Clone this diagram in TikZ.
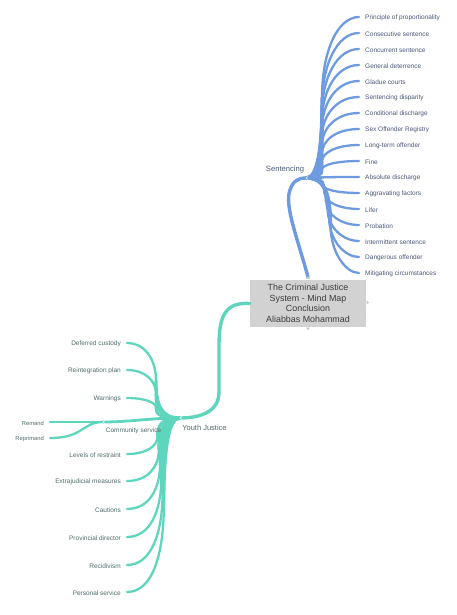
\documentclass[tikz,border=0pt]{standalone}
\usepackage{fontspec}
\setmainfont{Liberation Sans}
\definecolor{sblue}{HTML}{6E9BE0}
\definecolor{yteal}{HTML}{5ED6BD}
\definecolor{stext}{HTML}{4A5676}
\definecolor{ytext}{HTML}{4F6A68}
\definecolor{boxfill}{HTML}{D2D2D2}
\definecolor{boxtext}{HTML}{3C3C3C}
\begin{document}
\begin{tikzpicture}[x=1pt,y=-1pt,
  sleaf/.style={anchor=west,inner sep=0pt,font=\fontsize{6.5}{7.5}\selectfont,text=stext},
  yleaf/.style={anchor=east,inner sep=0pt,font=\fontsize{6.5}{7.5}\selectfont,text=ytext},
  ysmall/.style={anchor=east,inner sep=0pt,font=\fontsize{5.8}{6.5}\selectfont,text=ytext},
  sline/.style={draw=sblue,line width=2.3pt,line cap=round},
  yline/.style={draw=yteal,line width=2.3pt,line cap=round},
  chev/.style={draw=white,line width=0.5pt}]
\useasboundingbox (0,0) rectangle (456,615);

% central node
\node[fill=boxfill,minimum width=116pt,minimum height=47pt,inner sep=0pt,
  align=center,text=boxtext,font=\fontsize{8.9}{10.5}\selectfont] (root) at (308,303.5)
  {The Criminal Justice\\System - Mind Map\\Conclusion\\Aliabbas Mohammad};

% Sentencing
\coordinate (shub) at (306,178);
\node[inner sep=0pt,font=\fontsize{7.6}{8.5}\selectfont,text=stext] (sent) at (285,169.5) {Sentencing};
\draw[sline,line width=3.4pt] (308,277) .. controls (298,240) and (284,205) .. (290,190)
  .. controls (293,181) and (298,178) .. (shub);

\foreach \t [count=\i from 0] in {Principle of proportionality,Consecutive sentence,Concurrent sentence,General deterrence,Gladue courts,Sentencing disparity,Conditional discharge,Sex Offender Registry,Long-term offender,Fine,Absolute discharge,Aggravating factors,Lifer,Probation,Intermittent sentence,Dangerous offender,Mitigating circumstances}{
  \pgfmathsetmacro{\yy}{17+16*\i}
  \pgfmathsetmacro{\dy}{\yy-178}
  \pgfmathsetmacro{\xt}{\dy>0 ? 322+0.09*\dy : 322}
  \node[sleaf] (s\i) at (365,\yy+0.8) {\t};
  \coordinate (st\i) at (359,\yy);
  \coordinate (sp\i) at (\xt-4,178);
  \coordinate (sq\i) at (\xt,178+0.2*\dy);
  \coordinate (sm\i) at (\xt,178+0.5*\dy);
  \coordinate (sr\i) at (\xt,178+0.78*\dy);
  \coordinate (ss\i) at (\xt+15,\yy);
  \draw[sline] (shub) .. controls (sp\i) and (sq\i) .. (sm\i) .. controls (sr\i) and (ss\i) .. (st\i);
  \draw[sline,line width=3.1pt,line cap=butt] (shub) .. controls (sp\i) and (sq\i) .. (sm\i);
}

% Youth Justice
\coordinate (yhub) at (180,418);
\node[inner sep=0pt,font=\fontsize{7.5}{8.5}\selectfont,text=ytext] (youth) at (204.5,427.5) {Youth Justice};
\draw[yline,line width=3.4pt] (root.west) .. controls (226,302) and (219,315) .. (219,345)
  -- (219,392) .. controls (219,412) and (200,418) .. (yhub);

\foreach \t/\yy in {Deferred custody/343,Reintegration plan/370,Warnings/398,Levels of restraint/454,Extrajudicial measures/481,Cautions/509,Provincial director/537,Recidivism/565,Personal service/592}{
  \pgfmathsetmacro{\dy}{\yy-418}
  \pgfmathsetmacro{\xt}{\dy>0 ? 156+0.045*\dy : 156}
  \node[yleaf] (y\yy) at (121,\yy+0.8) {\t};
  \coordinate (yt\yy) at (127,\yy);
  \coordinate (yp\yy) at (\xt+4,418);
  \coordinate (yq\yy) at (\xt,418+0.2*\dy);
  \coordinate (ym\yy) at (\xt,418+0.5*\dy);
  \coordinate (yr\yy) at (\xt,418+0.78*\dy);
  \coordinate (ys\yy) at (\xt-11,\yy);
  \draw[yline] (yhub) .. controls (yp\yy) and (yq\yy) .. (ym\yy) .. controls (yr\yy) and (ys\yy) .. (yt\yy);
  \draw[yline,line width=3.1pt,line cap=butt] (yhub) .. controls (yp\yy) and (yq\yy) .. (ym\yy);
}

% Community service
\coordinate (cs) at (103,422);
\node[inner sep=0pt,font=\fontsize{6.5}{7.5}\selectfont,text=ytext] (csl) at (133.5,431) {Community service};
\draw[yline,line width=2.8pt] (yhub) .. controls (150,418) and (130,422) .. (cs);
\node[ysmall] (rem) at (44,423.5) {Remand};
\node[ysmall] (rep) at (44,439) {Reprimand};
\coordinate (remt) at (50,422);
\coordinate (rept) at (50,438);
\draw[yline] (cs) -- (remt);
\draw[yline] (cs) .. controls (82,422) and (84,438) .. (rept);

% small collapse markers
\draw[chev] (shub) ++(2,-1.5) -- ++(-2,1.5) -- ++(2,1.5);
\draw[chev] (yhub) ++(2,-1.5) -- ++(-2,1.5) -- ++(2,1.5);
\draw[chev] (cs) ++(2,-1.5) -- ++(-2,1.5) -- ++(2,1.5);
\fill[boxfill!80!gray] (308,276) -- ++(-2,2.5) -- ++(4,0) -- cycle;
\fill[boxfill!80!gray] (308,330) -- ++(-2,-2.5) -- ++(4,0) -- cycle;
\fill[boxfill!90!gray] (369,302.5) -- ++(-2.5,-2) -- ++(0,4) -- cycle;
\end{tikzpicture}
\end{document}
